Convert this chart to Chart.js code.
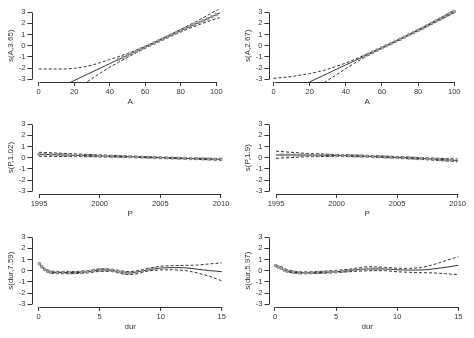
<!DOCTYPE html>
<html>
<head>
<meta charset="utf-8">
<script src="https://cdn.jsdelivr.net/npm/chart.js@4"></script>
<style>
  body { margin: 0; background: #fff; width: 474px; height: 338px; position: relative; overflow: hidden; }
  canvas { position: absolute; }
</style>
</head>
<body>
<canvas id="c1" width="237" height="112" style="left:0;top:0"></canvas>
<canvas id="c2" width="237" height="112" style="left:237px;top:0"></canvas>
<canvas id="c3" width="237" height="112" style="left:0;top:112px"></canvas>
<canvas id="c4" width="237" height="112" style="left:237px;top:112px"></canvas>
<canvas id="c5" width="237" height="112" style="left:0;top:225px"></canvas>
<canvas id="c6" width="237" height="112" style="left:237px;top:225px"></canvas>
<script>
// tick labels
const yTicks = [-3, -2, -1, 0, 1, 2, 3];
const aTicks = [0, 20, 40, 60, 80, 100];
const pTicks = [1995, 2000, 2005, 2010];
const durTicks = [0, 5, 10, 15];

// s(A,3.65)
const a1FitX = [17.5,20,22.5,25,27.5,30,32.5,35,37.5,40,42.5,45,47.5,50,52.5,55,57.5,60,62.5,65,67.5,70,72.5,75,77.5,80,82.5,85,87.5,90,92.5,95,97.5,100,102];
const a1Fit  = [-3.30,-3.12,-2.93,-2.74,-2.55,-2.36,-2.17,-1.98,-1.79,-1.60,-1.41,-1.22,-1.04,-0.86,-0.68,-0.50,-0.31,-0.13,0.05,0.24,0.42,0.60,0.79,0.97,1.15,1.34,1.52,1.70,1.88,2.05,2.22,2.40,2.58,2.78,2.93];
const a1BandX = [0,5,10,15,20,25,30,35,40,45,50,55,60,65,70,75,80,85,90,95,100,102];
const a1Upper = [-2.08,-2.09,-2.09,-2.08,-2.03,-1.92,-1.74,-1.50,-1.24,-0.98,-0.70,-0.40,-0.06,0.30,0.68,1.07,1.46,1.86,2.27,2.70,3.15,3.30];
const a1Lower = [null,null,null,null,null,-3.45,-2.95,-2.42,-1.93,-1.48,-1.05,-0.63,-0.22,0.16,0.52,0.88,1.22,1.55,1.86,2.15,2.42,2.50];

// s(A,2.67)
const a2FitX = [20,22.5,25,27.5,30,32.5,35,37.5,40,42.5,45,47.5,50,52.5,55,57.5,60,62.5,65,67.5,70,72.5,75,77.5,80,82.5,85,87.5,90,92.5,95,97.5,100];
const a2Fit  = [-3.24,-3.05,-2.86,-2.67,-2.48,-2.29,-2.10,-1.91,-1.72,-1.53,-1.34,-1.15,-0.96,-0.77,-0.58,-0.39,-0.20,-0.01,0.18,0.38,0.57,0.77,0.97,1.17,1.37,1.57,1.78,1.99,2.20,2.41,2.62,2.84,3.06];
const a2BandX = [0,5,10,15,20,25,28,30,35,40,45,50,55,60,65,70,75,80,85,90,95,100];
const a2Upper = [-2.92,-2.85,-2.76,-2.64,-2.50,-2.32,-2.20,-2.10,-1.84,-1.55,-1.22,-0.88,-0.52,-0.15,0.23,0.62,1.02,1.43,1.85,2.28,2.72,3.18];
const a2Lower = [null,null,null,null,null,null,-3.30,-3.10,-2.58,-2.05,-1.55,-1.08,-0.65,-0.25,0.13,0.52,0.92,1.31,1.71,2.12,2.52,2.94];

// s(P,1.02)
const pFitX = [1995,1995.5,1996,1996.5,1997,1997.5,1998,1998.5,1999,1999.5,2000,2000.5,2001,2001.5,2002,2002.5,2003,2003.5,2004,2004.5,2005,2005.5,2006,2006.5,2007,2007.5,2008,2008.5,2009,2009.5,2010];
const p1Fit = [0.30,0.29,0.27,0.26,0.24,0.23,0.21,0.20,0.18,0.17,0.15,0.14,0.12,0.11,0.09,0.08,0.06,0.05,0.03,0.02,0.00,-0.02,-0.03,-0.05,-0.06,-0.08,-0.09,-0.11,-0.12,-0.14,-0.15];
const pBandX = [1995,1997.5,2000,2002.5,2005,2007.5,2010];
const p1Upper = [0.48,0.36,0.24,0.13,0.04,-0.04,-0.08];
const p1Lower = [0.12,0.10,0.08,0.03,-0.04,-0.13,-0.23];

// s(P,1.9)
const p2Fit = [0.24,0.24,0.24,0.23,0.23,0.23,0.22,0.22,0.21,0.20,0.19,0.18,0.17,0.15,0.14,0.12,0.10,0.08,0.06,0.04,0.02,0.00,-0.03,-0.06,-0.08,-0.11,-0.13,-0.16,-0.19,-0.22,-0.25];
const p2Upper = [0.58,0.38,0.28,0.20,0.10,-0.02,-0.12];
const p2Lower = [-0.06,0.08,0.12,0.07,-0.04,-0.18,-0.38];

// s(dur,7.59)
const dFitX = [0.05,0.25,0.5,0.75,1,1.5,2,2.5,3,3.5,4,4.5,5,5.5,6,6.5,7,7.5,8,8.5,9,9.5,10,10.5,11,11.5,12,12.5,13,13.5,14,14.5,15];
const d1Fit = [0.62,0.35,0.10,-0.08,-0.15,-0.17,-0.17,-0.17,-0.17,-0.16,-0.10,0.00,0.06,0.07,0.02,-0.08,-0.18,-0.22,-0.15,-0.02,0.10,0.18,0.23,0.26,0.27,0.27,0.25,0.20,0.13,0.06,0.00,-0.04,-0.09];
const dBandX = [0.05,0.5,1,2,3,4,5,6,7,7.5,8,9,10,11,12,13,14,15];
const d1Upper = [0.67,0.18,-0.05,-0.08,-0.08,0.00,0.17,0.13,-0.06,-0.10,-0.02,0.22,0.40,0.45,0.47,0.50,0.60,0.70];
const d1Lower = [0.57,0.02,-0.25,-0.27,-0.27,-0.20,-0.06,-0.08,-0.32,-0.36,-0.30,-0.02,0.07,0.08,0.02,-0.20,-0.50,-0.90];

// s(dur,5.97)
const d2Fit = [0.45,0.33,0.20,0.05,-0.05,-0.15,-0.19,-0.20,-0.19,-0.17,-0.15,-0.13,-0.10,-0.06,0.00,0.06,0.11,0.15,0.16,0.16,0.15,0.12,0.08,0.06,0.05,0.05,0.06,0.10,0.16,0.23,0.30,0.39,0.48];
const d2Upper = [0.52,0.36,0.08,-0.12,-0.10,-0.05,0.03,0.12,0.28,0.35,0.35,0.30,0.22,0.20,0.27,0.55,0.90,1.25];
const d2Lower = [0.38,0.22,-0.12,-0.27,-0.26,-0.22,-0.18,-0.10,-0.04,-0.02,0.00,0.00,-0.10,-0.15,-0.18,-0.20,-0.28,-0.35];

const pts = (xs, ys) => xs.map((x, i) => ({ x: x, y: ys[i] }));

const ink = '#333';
const font = 'Liberation Sans, Arial, Helvetica, sans-serif';

// R-style axis lines: only from first to last tick
const rAxes = {
  id: 'rAxes',
  afterDraw(chart) {
    const { ctx, chartArea, scales: { x, y } } = chart;
    const xt = x.ticks, yt = y.ticks;
    ctx.save();
    ctx.strokeStyle = ink;
    ctx.lineWidth = 1;
    ctx.beginPath();
    const by = Math.round(chartArea.bottom) + 0.5;
    ctx.moveTo(Math.round(x.getPixelForValue(xt[0].value)) + 0.5, by);
    ctx.lineTo(Math.round(x.getPixelForValue(xt[xt.length - 1].value)) + 0.5, by);
    const lx = Math.round(chartArea.left) + 0.5;
    ctx.moveTo(lx, Math.round(y.getPixelForValue(yt[0].value)) + 0.5);
    ctx.lineTo(lx, Math.round(y.getPixelForValue(yt[yt.length - 1].value)) + 0.5);
    ctx.stroke();
    ctx.restore();
  }
};

function panel(id, p) {
  new Chart(document.getElementById(id), {
    type: 'line',
    data: {
      datasets: [
        {
          data: pts(p.fitX, p.fit),
          borderColor: ink, borderWidth: 1, fill: false,
          pointStyle: 'rect',
          pointRadius: c => (c.raw && c.raw.x >= p.rug[0] && c.raw.x <= p.rug[1]) ? 1.7 : 0,
          pointBackgroundColor: '#aaa', pointBorderColor: '#777', pointBorderWidth: 0.6
        },
        { data: pts(p.bandX, p.upper), borderColor: ink, borderWidth: 1, borderDash: [3, 2], pointRadius: 0, spanGaps: false },
        { data: pts(p.bandX, p.lower), borderColor: ink, borderWidth: 1, borderDash: [3, 2], pointRadius: 0, spanGaps: false }
      ]
    },
    options: {
      responsive: false,
      animation: false,
      events: [],
      layout: { padding: { top: 9.4, right: 8, left: 0, bottom: 0 } },
      plugins: { legend: { display: false }, tooltip: { enabled: false } },
      scales: {
        x: {
          type: 'linear', min: p.xMin, max: p.xMax,
          afterBuildTicks: s => { s.ticks = p.xTicks.map(v => ({ value: v })); },
          afterFit: s => { s.height = 30.1; },
          grid: { display: true, drawOnChartArea: false, drawTicks: true, tickLength: 4, color: ink },
          border: { display: false },
          ticks: { color: ink, padding: 2, maxRotation: 0, autoSkip: false, font: { family: font, size: 7.5 }, callback: v => String(v) },
          title: { display: true, text: p.xTitle, color: ink, font: { family: font, size: 8 }, padding: { top: 0, bottom: 5.5 } }
        },
        y: {
          type: 'linear', min: -3.24, max: 3.24,
          afterBuildTicks: s => { s.ticks = yTicks.map(v => ({ value: v })); },
          afterFit: s => { s.width = 31.5; },
          grid: { display: true, drawOnChartArea: false, drawTicks: true, tickLength: 4, color: ink },
          border: { display: false },
          ticks: { color: ink, padding: 2, autoSkip: false, font: { family: font, size: 7.5 }, callback: v => String(v) },
          title: { display: true, text: p.yTitle, color: ink, font: { family: font, size: 8 }, padding: { top: 6.2, bottom: 0 } }
        }
      }
    },
    plugins: [rAxes]
  });
}

panel('c1', { fitX: a1FitX, fit: a1Fit, bandX: a1BandX, upper: a1Upper, lower: a1Lower, rug: [45, 100],
  xMin: -4.05, xMax: 107.15, xTicks: aTicks, xTitle: 'A', yTitle: 's(A,3.65)' });
panel('c2', { fitX: a2FitX, fit: a2Fit, bandX: a2BandX, upper: a2Upper, lower: a2Lower, rug: [48, 100],
  xMin: -2.77, xMax: 106.5, xTicks: aTicks, xTitle: 'A', yTitle: 's(A,2.67)' });
panel('c3', { fitX: pFitX, fit: p1Fit, bandX: pBandX, upper: p1Upper, lower: p1Lower, rug: [1995, 2010],
  xMin: 1994.38, xMax: 2010.66, xTicks: pTicks, xTitle: 'P', yTitle: 's(P,1.02)' });
panel('c4', { fitX: pFitX, fit: p2Fit, bandX: pBandX, upper: p2Upper, lower: p2Lower, rug: [1995.5, 2009.5],
  xMin: 1994.38, xMax: 2010.69, xTicks: pTicks, xTitle: 'P', yTitle: 's(P,1.9)' });
panel('c5', { fitX: dFitX, fit: d1Fit, bandX: dBandX, upper: d1Upper, lower: d1Lower, rug: [0, 9.5],
  xMin: -0.59, xMax: 15.6, xTicks: durTicks, xTitle: 'dur', yTitle: 's(dur,7.59)' });
panel('c6', { fitX: dFitX, fit: d2Fit, bandX: dBandX, upper: d2Upper, lower: d2Lower, rug: [0, 9],
  xMin: -0.53, xMax: 15.63, xTicks: durTicks, xTitle: 'dur', yTitle: 's(dur,5.97)' });
</script>
</body>
</html>
